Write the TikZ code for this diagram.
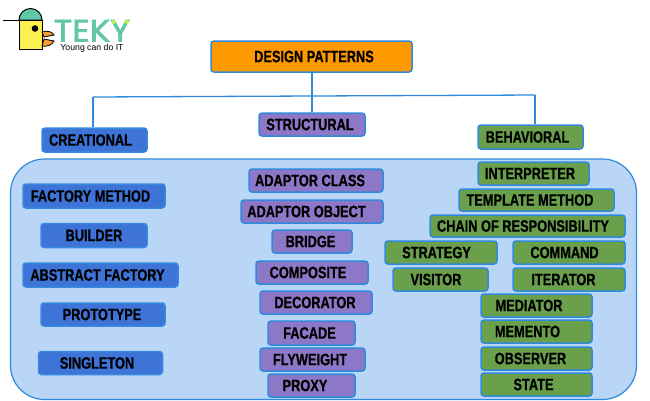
\documentclass[tikz,border=0pt]{standalone}
\usepackage{fontspec}
\setmainfont[FakeStretch=0.775,FakeBold=0.6]{Liberation Sans Bold}
\newfontfamily\logofont[FakeBold=2.2,FakeStretch=1.1]{Poppins}
\newfontfamily\tagfont{Liberation Sans}
\newcommand{\tx}[2]{\hspace*{#1pt}#2}
\definecolor{panelblue}{HTML}{B9D6F6}
\definecolor{edgeblue}{HTML}{2F8ADB}
\definecolor{creablue}{HTML}{3E74D8}
\definecolor{strucpurple}{HTML}{8C78C6}
\definecolor{behavgreen}{HTML}{6A9F4C}
\definecolor{rootorange}{HTML}{FF9900}
\definecolor{tekyteal}{HTML}{62C6A8}
\definecolor{duckyellow}{HTML}{FBF050}
\definecolor{beakorange}{HTML}{F5A030}
\tikzset{
  patbox/.style={shape=rectangle,rounded corners=3pt,draw=edgeblue,line width=1.5pt,inner sep=0pt,
    text=black,font=\fontsize{16.5}{18}\selectfont},
  creabox/.style={patbox,fill=creablue,draw=creablue!85!cyan},
  strucbox/.style={patbox,fill=strucpurple},
  behavbox/.style={patbox,fill=behavgreen},
  rootbox/.style={patbox,fill=rootorange},
  link/.style={draw=edgeblue,line width=1.3pt}
}
\begin{document}
\begin{tikzpicture}[x=1pt,y=-1pt]
    \useasboundingbox (0,0) rectangle (650,400);
    \fill[white] (0,0) rectangle (650,400);

    % panel behind the lists
    \path[fill=panelblue,draw=edgeblue,line width=1.2pt,rounded corners=34pt] (10.5,159) rectangle (636.5,399.5);

    % logo
    \draw[fill=tekyteal,line width=1pt] (19,20) arc[start angle=180,end angle=360,radius=11.5] -- cycle;
    \draw[fill=duckyellow,line width=1pt] (19,20) rectangle (42,49.5);
    \draw[line width=1pt] (3,20) -- (42,20);
    \fill (35,28.5) circle[radius=3.3];
    \draw[fill=beakorange,line width=0.8pt] (42,32) .. controls (48,30) and (52,32) .. (54,35) -- (44,37) -- cycle;
    \draw[fill=beakorange,line width=0.8pt] (44,39) -- (54,41) .. controls (52,45) and (47,47) .. (42,46) -- cycle;
    \node[inner sep=0pt,text=tekyteal,font=\logofont\fontsize{31}{31}\selectfont,text height=22pt,text depth=0pt] (teky) at (92,30.5) {TEKY};
    \node[inner sep=0pt,font=\tagfont\fontsize{8.7}{9}\selectfont] (slogan) at (92,48.5) {Young can do IT};
    \fill[duckyellow!80!green] (113.5,22) circle[radius=2];
    \fill[duckyellow!80!green] (127,22) circle[radius=2];

    % top level
    \node[rootbox,minimum width=201pt,minimum height=31pt] (root) at (311.5,56.5) {\tx{5}{DESIGN PATTERNS}};
    \node[creabox,minimum width=105pt,minimum height=24pt] (creational) at (94.5,140) {\tx{-8}{CREATIONAL}};
    \node[strucbox,minimum width=106pt,minimum height=23pt] (structural) at (312,124.5) {\tx{-4}{STRUCTURAL}};
    \node[behavbox,minimum width=105pt,minimum height=24pt] (behavioral) at (530.5,137) {\tx{-6}{BEHAVIORAL}};

    \coordinate (barleft) at (93,97);
    \coordinate (barmid) at (312,96);
    \coordinate (barright) at (535,95);
    \draw[link] (barleft) -- (barmid) -- (barright);
    \draw[link] (root.south -| barmid) -- (structural.north -| barmid);
    \draw[link] (barleft) -- (creational.north -| barleft);
    \draw[link] (barright) -- (behavioral.north -| barright);

    % creational
    \node[creabox,minimum width=142pt,minimum height=24pt] (factory) at (94,196) {\tx{-7}{FACTORY METHOD}};
    \node[creabox,minimum width=106pt,minimum height=24pt] (builder) at (94,235.5) {\tx{0}{BUILDER}};
    \node[creabox,minimum width=155pt,minimum height=24pt] (abstract) at (100.5,275) {\tx{-6}{ABSTRACT FACTORY}};
    \node[creabox,minimum width=124pt,minimum height=23pt] (prototype) at (103,314.5) {\tx{-2}{PROTOTYPE}};
    \node[creabox,minimum width=124pt,minimum height=23pt] (singleton) at (100.5,363) {\tx{-7}{SINGLETON}};

    % structural
    \node[strucbox,minimum width=134pt,minimum height=23pt] (adaptorclass) at (316,180.5) {\tx{-12}{ADAPTOR CLASS}};
    \node[strucbox,minimum width=142pt,minimum height=23pt] (adaptorobject) at (312,211.5) {\tx{-11}{ADAPTOR OBJECT}};
    \node[strucbox,minimum width=80pt,minimum height=23pt] (bridge) at (312,241.5) {\tx{-3}{BRIDGE}};
    \node[strucbox,minimum width=112pt,minimum height=23pt] (composite) at (312,272.5) {\tx{-8}{COMPOSITE}};
    \node[strucbox,minimum width=112pt,minimum height=23pt] (decorator) at (316,302.5) {\tx{-2}{DECORATOR}};
    \node[strucbox,minimum width=87pt,minimum height=24pt] (facade) at (311.5,333) {\tx{-4}{FACADE}};
    \node[strucbox,minimum width=105pt,minimum height=23pt] (flyweight) at (312.5,359.5) {\tx{-5}{FLYWEIGHT}};
    \node[strucbox,minimum width=87pt,minimum height=23pt] (proxy) at (311.5,385.5) {\tx{-13}{PROXY}};

    % behavioral
    \node[behavbox,minimum width=111pt,minimum height=23pt] (interpreter) at (533.5,173.5) {\tx{-7}{INTERPRETER}};
    \node[behavbox,minimum width=155pt,minimum height=22pt] (template) at (536.5,200) {\tx{-13}{TEMPLATE METHOD}};
    \node[behavbox,minimum width=195pt,minimum height=22pt] (chain) at (527.5,226) {\tx{-9}{CHAIN OF RESPONSIBILITY}};
    \node[behavbox,minimum width=112pt,minimum height=23pt] (strategy) at (441,252.5) {\tx{-9}{STRATEGY}};
    \node[behavbox,minimum width=112pt,minimum height=23pt] (command) at (569,252.5) {\tx{-9}{COMMAND}};
    \node[behavbox,minimum width=95pt,minimum height=23pt] (visitor) at (440.5,279.5) {\tx{-9}{VISITOR}};
    \node[behavbox,minimum width=112pt,minimum height=23pt] (iterator) at (569,279.5) {\tx{-11}{ITERATOR}};
    \node[behavbox,minimum width=111pt,minimum height=23pt] (mediator) at (536.5,305.5) {\tx{-15}{MEDIATOR}};
    \node[behavbox,minimum width=111pt,minimum height=23pt] (memento) at (536.5,331.5) {\tx{-18}{MEMENTO}};
    \node[behavbox,minimum width=111pt,minimum height=23pt] (observer) at (536.5,358.5) {\tx{-12}{OBSERVER}};
    \node[behavbox,minimum width=111pt,minimum height=23pt] (state) at (536.5,384.5) {\tx{-6}{STATE}};
\end{tikzpicture}
\end{document}
